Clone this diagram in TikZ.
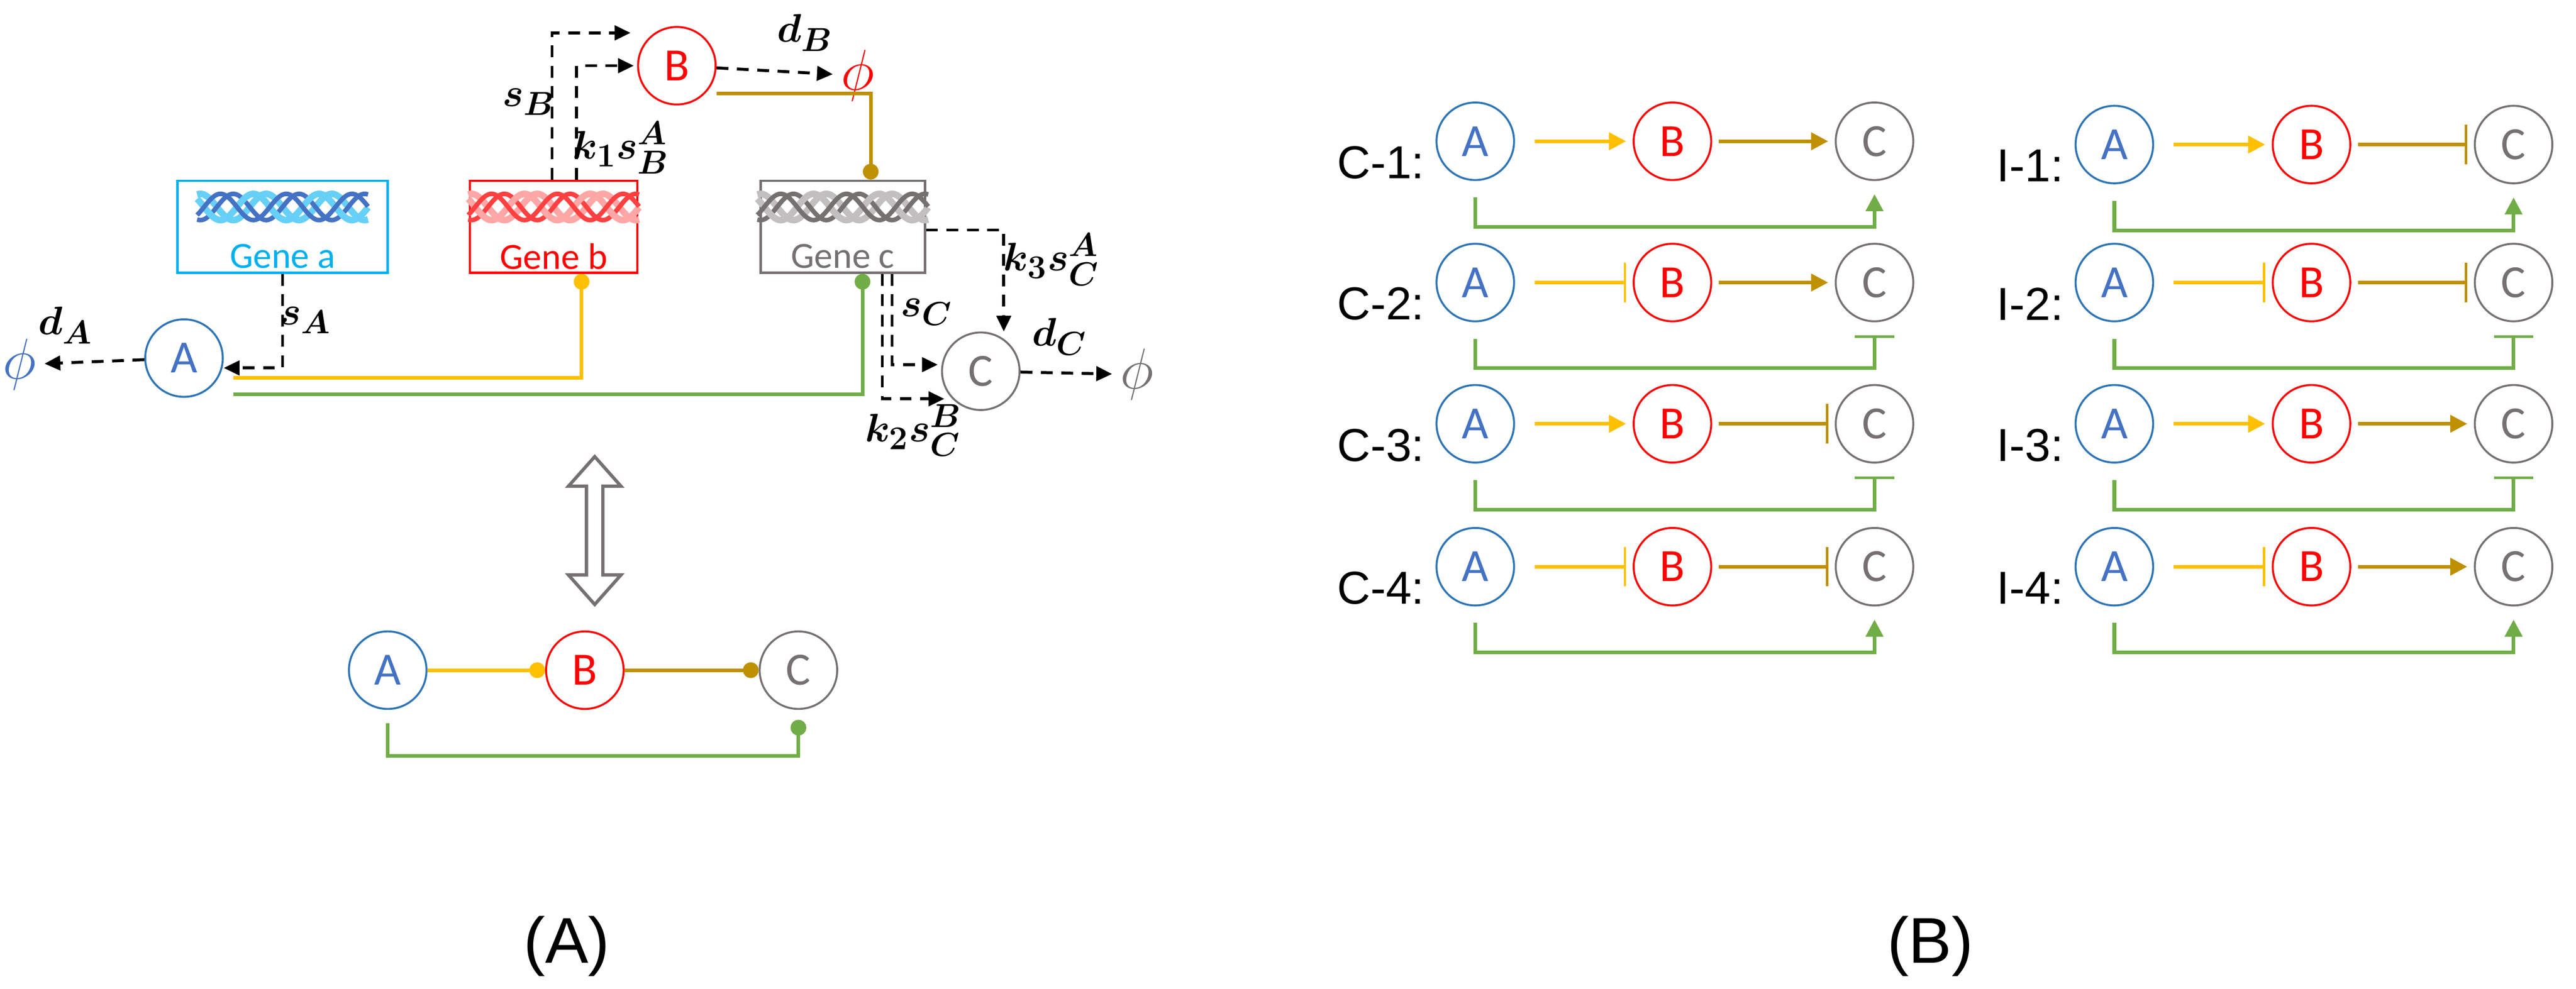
\documentclass[tikz,border=0pt]{standalone}
\usepackage{amsmath,bm}
\usepackage{fontspec}
\setmainfont{Liberation Sans}
\newfontfamily\calib{Carlito}
\usetikzlibrary{arrows.meta,positioning,calc}
\definecolor{cA}{HTML}{4472C4}
\definecolor{cAline}{HTML}{2E75B6}
\definecolor{cB}{HTML}{FF0000}
\definecolor{cC}{HTML}{767171}
\definecolor{cY}{HTML}{FFC000}
\definecolor{cG}{HTML}{BF9000}
\definecolor{cGr}{HTML}{70AD47}
\definecolor{cGa}{HTML}{00B0F0}
\tikzset{
  sp/.style={circle,draw,minimum size=11.8mm,inner sep=0pt,line width=0.3mm,font=\calib\fontsize{20}{20}\selectfont},
  gene/.style={draw,line width=0.35mm,minimum width=#1,minimum height=14mm,inner sep=0pt},
  rate/.style={-{Triangle[length=2.4mm,width=2.2mm]},line width=0.45mm,dash pattern=on 1.8mm off 1.3mm},
  lbl/.style={font=\fontsize{19}{19}\selectfont,inner sep=1pt},
  act/.style={-{Triangle[length=2.6mm,width=2.6mm]}},
  inh/.style={-{Bar[width=6mm,line width=0.35mm]}},
  bal/.style={-{Circle[length=2.4mm,width=2.4mm]}},
  link/.style={line width=0.55mm},
}
\newcommand{\helix}[3]{% center, light, dark
  \begin{scope}[shift={#1}]
    \foreach \ph in {0,70}{
      \draw[#2,line width=1mm] plot[domain=-52:52,samples=80] (\x,{8*sin(9*\x+\ph)});
      \draw[#3,line width=0.7mm] plot[domain=-52:52,samples=80] (\x,{8*sin(9*\x+\ph+180)});}
  \end{scope}}
\begin{document}
\begin{tikzpicture}[x=0.25mm,y=-0.25mm]
\useasboundingbox (0,0) rectangle (1568,602);
% ---- panel A
\node[sp,draw=cAline,text=cA] (A) at (112,218) {A};
\node[sp,draw=cB,text=cB] (B) at (412,40) {B};
\node[sp,draw=cC,text=cC] (C) at (597,226) {C};
\node[gene=32mm,draw=cGa] (ga) at (172,138) {};
\node[gene=25.5mm,draw=cB] (gb) at (337,138) {};
\node[gene=25mm,draw=cC] (gc) at (513,138) {};
\helix{(172,126)}{cGa!60}{cA}
\helix{(337,126)}{cB!35}{cB!75}
\helix{(513,126)}{cC!45}{cC}
\node[font=\calib\fontsize{16}{16}\selectfont,text=cGa] at (172,156) {Gene a};
\node[font=\calib\fontsize{16}{16}\selectfont,text=cB] at (337,156) {Gene b};
\node[font=\calib\fontsize{16}{16}\selectfont,text=cC] at (513,156) {Gene c};
\node[text=cA,font=\fontsize{30}{30}\selectfont] (phiA) at (12,222) {$\phi$};
\node[text=cB,font=\fontsize{30}{30}\selectfont] (phiB) at (522,46) {$\phi$};
\node[text=cC,font=\fontsize{30}{30}\selectfont] (phiC) at (692,228) {$\phi$};
% degradation
\draw[rate] (A) -- (phiA);
\draw[rate] (B) -- (phiB);
\draw[rate] (C) -- (phiC);
\node[lbl] at (40,198) {$\bm{d_A}$};
\node[lbl] at (490,20) {$\bm{d_B}$};
\node[lbl] at (645,205) {$\bm{d_C}$};
% synthesis
\draw[rate] (ga.south) |- ([yshift=-1.5mm]A.east);
\draw[rate] (gb.north -| 336,0) |- ([yshift=5mm,xshift=-1mm]B.west);
\draw[rate] (gb.north -| 351,0) |- ([xshift=-0.5mm]B.west);
\draw[rate] (gc.south -| 543,0) |- ([yshift=1mm,xshift=-0.5mm]C.west);
\draw[rate] (gc.south -| 537,0) |- ([yshift=-4.2mm,xshift=0.5mm]C.west);
\draw[rate] ([yshift=-0.5mm]gc.east) -| ([xshift=3.5mm]C.north);
\node[lbl] at (322,62) {$\bm{s_B}$};
\node[lbl] at (378,90) {$\bm{k_1 s_B^A}$};
\node[lbl] at (186,195) {$\bm{s_A}$};
\node[lbl] at (564,190) {$\bm{s_C}$};
\node[lbl] at (556,262) {$\bm{k_2 s_C^B}$};
\node[lbl] at (640,158) {$\bm{k_3 s_C^A}$};
% regulation
\draw[link,cG,bal] (B.east |- 0,57) -- (530,57) -- (gc.north -| 530,0);
\draw[link,cY,bal] (142,230) -- (354,230) -- (gb.south -| 354,0);
\draw[link,cGr,bal] (142,240) -- (525,240) -- (gc.south -| 525,0);
% equivalence arrow
\draw[cC,line width=0.5mm,fill=white] (357,296) -- (357,350) -- (346,350) -- (362,368) -- (378,350) -- (367,350) -- (367,296) -- (378,296) -- (362,278) -- (346,296) -- cycle;
% reduced network
\node[sp,draw=cAline,text=cA] (a0) at (236,408) {A};
\node[sp,draw=cB,text=cB] (b0) at (356,408) {B};
\node[sp,draw=cC,text=cC] (c0) at (486,408) {C};
\draw[link,cY,bal] (a0) -- (b0);
\draw[link,cG,bal] (b0) -- (c0);
\draw[link,cGr,bal] ([yshift=-2mm]a0.south) -- ++(0,20) -| ([yshift=-1.5mm]c0.south);
\node[font=\fontsize{28}{28}\selectfont] at (345,576) {(A)};
% ---- panel B
\foreach \i/\lab/\x/\y/\ab/\bc/\ac in {
  1/C-1/0/86/act/act/act, 2/C-2/0/172/inh/act/inh, 3/C-3/0/258/act/inh/inh, 4/C-4/0/345/inh/inh/act,
  5/I-1/389/88/act/inh/act, 6/I-2/389/172/inh/inh/inh, 7/I-3/389/258/act/act/inh, 8/I-4/389/345/inh/act/act}{
  \node[font=\fontsize{20}{20}\selectfont,anchor=east] at (\x+872,\y+13) {\lab:};
  \node[sp,draw=cAline,text=cA] (A\i) at (\x+898,\y) {A};
  \node[sp,draw=cB,text=cB] (B\i) at (\x+1018,\y) {B};
  \node[sp,draw=cC,text=cC] (C\i) at (\x+1141,\y) {C};
  \draw[link,cY,\ab] ([xshift=3mm]A\i.east) -- ([xshift=-1mm]B\i.west);
  \draw[link,cG,\bc] ([xshift=1mm]B\i.east) -- ([xshift=-1mm]C\i.west);
  \draw[link,cGr,\ac] ([yshift=-2.5mm]A\i.south) -- ++(0,18) -| ([yshift=-2mm]C\i.south);
}
\node[font=\fontsize{28}{28}\selectfont] at (1175,576) {(B)};
\end{tikzpicture}
\end{document}
